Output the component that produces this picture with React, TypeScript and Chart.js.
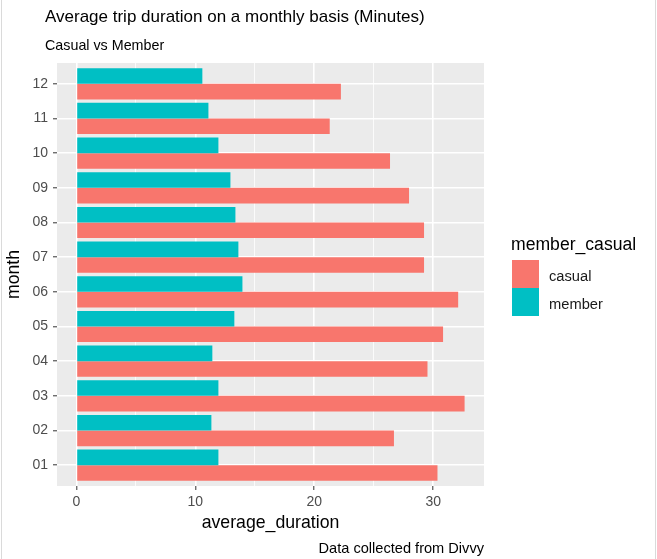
import React, { useEffect, useRef } from "react";
import { Chart, registerables } from "chart.js";

Chart.register(...registerables);

const months = ["01", "02", "03", "04", "05", "06", "07", "08", "09", "10", "11", "12"];
const casualDuration = [30.36, 26.7, 32.64, 29.52, 30.83, 32.1, 29.23, 29.23, 27.97, 26.37, 21.3, 22.24];
const memberDuration = [11.94, 11.35, 11.94, 11.43, 13.28, 13.96, 13.62, 13.37, 12.95, 11.94, 11.1, 10.59];
const xTickStep = 5;
const xMajorStep = 10;

const CASUAL = "#F8766D";
const MEMBER = "#00BFC4";
const FONT = "'Liberation Sans', Arial, sans-serif";

const panelBg = {
  id: "panelBg",
  beforeDraw(chart: any) {
    const { ctx, chartArea } = chart;
    if (!chartArea) return;
    ctx.save();
    ctx.fillStyle = "#EBEBEB";
    ctx.fillRect(chartArea.left, chartArea.top, chartArea.right - chartArea.left, chartArea.bottom - chartArea.top);
    ctx.restore();
  },
};

export default function App() {
  const ref = useRef<HTMLCanvasElement | null>(null);

  useEffect(() => {
    if (!ref.current) return;
    const dataMax = Math.max(...casualDuration, ...memberDuration);
    const n = months.length;
    const chart = new Chart(ref.current, {
      type: "bar",
      data: {
        datasets: [
          {
            label: "member",
            data: memberDuration.map((v, i) => ({ x: v, y: i })),
            backgroundColor: MEMBER,
            borderWidth: 0,
          },
          {
            label: "casual",
            data: casualDuration.map((v, i) => ({ x: v, y: i })),
            backgroundColor: CASUAL,
            borderWidth: 0,
          },
        ],
      },
      plugins: [panelBg],
      options: {
        indexAxis: "y",
        animation: false,
        responsive: false,
        layout: { padding: { top: 63, right: 173, left: 0, bottom: 0 } },
        datasets: { bar: { categoryPercentage: 0.9, barPercentage: 1.0 } },
        plugins: { legend: { display: false }, tooltip: { enabled: false }, title: { display: false } },
        scales: {
          x: {
            type: "linear",
            min: -0.05 * dataMax,
            max: 1.05 * dataMax,
            afterFit: (s: any) => {
              s.height = 73;
            },
            ticks: {
              stepSize: xTickStep,
              includeBounds: false,
              color: "#4D4D4D",
              font: { family: FONT, size: 14 },
              padding: 4,
              maxRotation: 0,
              autoSkip: false,
              callback: (v: any) => (Math.abs(Number(v) % xMajorStep) < 1e-9 ? String(v) : ""),
            },
            grid: {
              color: "#FFFFFF",
              lineWidth: (c: any) => (c.tick && Math.abs(c.tick.value % xMajorStep) < 1e-9 ? 1.6 : 0.8),
              tickColor: (c: any) => (c.tick && Math.abs(c.tick.value % xMajorStep) < 1e-9 ? "#333333" : "rgba(0,0,0,0)"),
              tickLength: 4,
              tickWidth: 1,
            },
            border: { display: false },
            title: {
              display: true,
              text: "average_duration",
              color: "#000000",
              font: { family: FONT, size: 17.7 },
              padding: { top: 0, bottom: 25 },
            },
          },
          y: {
            type: "linear",
            offset: false,
            min: -0.6,
            max: n - 1 + 0.6,
            afterFit: (s: any) => {
              s.width = 57;
            },
            afterBuildTicks: (s: any) => {
              s.ticks = months.map((_, i) => ({ value: i }));
            },
            ticks: {
              color: "#4D4D4D",
              font: { family: FONT, size: 14 },
              padding: 5,
              autoSkip: false,
              callback: (v: any) => months[Math.round(Number(v))] ?? "",
            },
            grid: {
              offset: false,
              color: "#FFFFFF",
              lineWidth: 1.6,
              tickColor: "#333333",
              tickLength: 4,
              tickWidth: 1,
            },
            border: { display: false },
            title: {
              display: true,
              text: "month",
              color: "#000000",
              font: { family: FONT, size: 17.7 },
              padding: { top: 3, bottom: 0 },
            },
          },
        },
      },
    } as any);
    return () => chart.destroy();
  }, []);

  const abs: React.CSSProperties = { position: "absolute", margin: 0, whiteSpace: "nowrap", fontFamily: FONT };

  return (
    <div style={{ position: "fixed", left: 0, top: 0, width: 657, height: 559, background: "#FFFFFF", overflow: "hidden" }}>
      <canvas ref={ref} width={657} height={559} style={{ position: "absolute", left: 0, top: 0, width: 657, height: 559 }} />
      <div style={{ ...abs, left: 45, top: 7.6, fontSize: 17, lineHeight: "17px", color: "#000" }}>
        Average trip duration on a monthly basis (Minutes)
      </div>
      <div style={{ ...abs, left: 45, top: 38.4, fontSize: 14.3, lineHeight: "14.3px", color: "#000" }}>Casual vs Member</div>
      <div style={{ ...abs, left: 511, top: 236.1, fontSize: 17.6, lineHeight: "17.6px", color: "#000" }}>member_casual</div>
      <div style={{ position: "absolute", left: 511.7, top: 260.2, width: 27.5, height: 27.5, background: CASUAL }} />
      <div style={{ position: "absolute", left: 511.7, top: 288.2, width: 27.5, height: 27.5, background: MEMBER }} />
      <div style={{ ...abs, left: 549, top: 268.6, fontSize: 14.7, lineHeight: "14.7px", color: "#1A1A1A" }}>casual</div>
      <div style={{ ...abs, left: 549, top: 296.9, fontSize: 14.7, lineHeight: "14.7px", color: "#1A1A1A" }}>member</div>
      <div style={{ ...abs, right: 173, top: 540.6, fontSize: 14.6, lineHeight: "14.6px", color: "#000", textAlign: "right" }}>
        Data collected from Divvy
      </div>
      <div style={{ position: "absolute", left: 1, top: 0, width: 1, height: 559, background: "#DADADA" }} />
      <div style={{ position: "absolute", left: 655, top: 0, width: 1, height: 559, background: "#DADADA" }} />
    </div>
  );
}
